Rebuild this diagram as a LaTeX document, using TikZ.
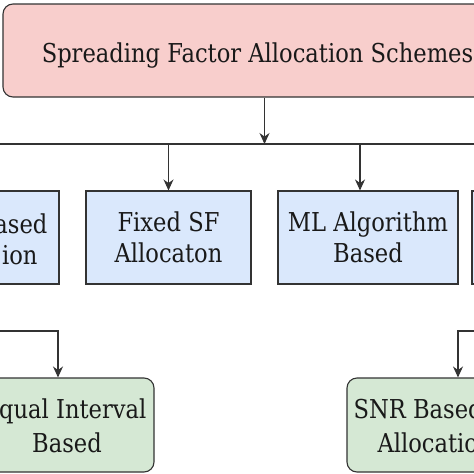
\documentclass[tikz,border=0pt]{standalone}
\usepackage{fontspec}
\setmainfont{DejaVu Serif}[FakeStretch=0.87]
\usetikzlibrary{arrows.meta,positioning}
\definecolor{sfRed}{HTML}{F8CECC}
\definecolor{sfBlue}{HTML}{DAE8FC}
\definecolor{sfGreen}{HTML}{D5E8D4}
\definecolor{sfLine}{HTML}{333333}

\begin{document}
\begin{tikzpicture}[x=1pt, y=-1pt, font=\fontsize{26}{31}\selectfont, line width=1.1pt,
  box/.style={draw=sfLine, inner sep=0pt, minimum height=93pt},
  txt/.style={inner sep=0pt, text=black!90},
  arr/.style={-{Stealth[length=11pt,width=10pt]}, draw=sfLine}]
\useasboundingbox (0,0) rectangle (474,474);
\clip (0,0) rectangle (474,474);
% root
\node[box, fill=sfRed, rounded corners=10pt, minimum width=523pt] (root) at (264.5,50.5) {};
\node[txt, anchor=base] (rootTxt) at (257.5,62) {Spreading Factor Allocation Schemes};
% bus
\coordinate (busL) at (0,144);
\coordinate (busR) at (474,144);
\draw[sfLine] (busL) -- (busR);
\draw[arr] (root.south) -- (root.south |- busL);
% second row
\node[box, fill=sfBlue, minimum width=165pt] (distB) at (-23.5,237.5) {};
\node[txt, anchor=base east] (distA) at (48,233) {ased};
\node[txt, anchor=base east] (distC) at (38,264) {ion};
\node[box, fill=sfBlue, minimum width=165pt, align=center, text=black!90] (fixedSF) at (168.5,237.5) {Fixed SF\\Allocaton};
\node[box, fill=sfBlue, minimum width=180pt, align=center, text=black!90] (mlBased) at (368,237.5) {ML Algorithm\\Based};
\node[box, fill=sfBlue, minimum width=160pt] (nextB) at (552,237.5) {};
\draw[arr] (fixedSF.north |- busL) -- (fixedSF.north);
\draw[arr] ([xshift=-8pt]mlBased.north |- busL) -- ([xshift=-8pt]mlBased.north);
% third row
\node[box, fill=sfGreen, rounded corners=10pt, minimum width=174pt, minimum height=94pt] (eqInt) at (67,425) {};
\node[txt, anchor=base east] (eqA) at (147,418) {qual Interval};
\node[txt, anchor=base] (eqB) at (67,452) {Based};
\node[box, fill=sfGreen, rounded corners=10pt, minimum width=183pt, minimum height=94pt] (snrB) at (438.5,425) {};
\node[txt, anchor=base west] (snrA) at (353,418) {SNR Based};
\node[txt, anchor=base west] (snrC) at (377,452) {Allocation};
\coordinate (grpL) at (0,331);
\coordinate (grpR) at (474,331);
\draw[arr] (grpL) -| ([xshift=-9pt]eqInt.north);
\draw[arr] (grpR) -| ([xshift=19.5pt]snrB.north);
\end{tikzpicture}
\end{document}
